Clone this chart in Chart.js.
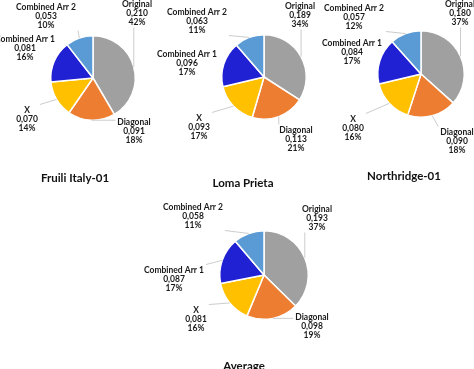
<!DOCTYPE html>
<html>
<head>
<meta charset="utf-8">
<script src="https://cdn.jsdelivr.net/npm/chart.js@4.4.0/dist/chart.umd.min.js"></script>
<style>
  html, body { margin: 0; padding: 0; background: #fff; overflow: hidden; }
  #wrap { position: relative; width: 474px; height: 369px; }
  .pie { position: absolute; left: 0; top: 0; width: 474px; height: 369px; pointer-events: none; }
  .title { position: absolute; transform: translate(-50%, -50%); font: bold 11.5px Lato, sans-serif; color: #111; white-space: nowrap; }
</style>
</head>
<body>
<div id="wrap">
  <div class="pie"><canvas id="c0"></canvas></div>
  <div class="pie"><canvas id="c1"></canvas></div>
  <div class="pie"><canvas id="c2"></canvas></div>
  <div class="pie"><canvas id="c3"></canvas></div>
</div>
<script>
const categories = ['Original', 'Diagonal', 'X', 'Combined Arr 1', 'Combined Arr 2'];
const colors = ['#a0a0a0', '#ed7d31', '#ffc000', '#2121d4', '#5b9bd5'];

const fruiliValues = [0.210, 0.091, 0.070, 0.081, 0.053];
const fruiliPct = [42, 18, 14, 16, 10];
const lomaValues = [0.189, 0.113, 0.093, 0.096, 0.063];
const lomaPct = [34, 21, 17, 17, 11];
const northValues = [0.180, 0.090, 0.080, 0.084, 0.057];
const northPct = [37, 18, 16, 17, 12];
const avgValues = [0.193, 0.098, 0.081, 0.087, 0.058];
const avgPct = [37, 19, 16, 17, 11];

// layout: pie centre, radius, title position, label offsets from centre
const W = 474, H = 369;
const panels = [
  { id: 'c0', title: 'Fruili Italy-01', values: fruiliValues, pct: fruiliPct, cx: 93, cy: 78, r: 43, tx: 75, ty: 177,
    offs: [[44, -65], [41, 53], [-66, 41], [-68, -30], [-47, -62]] },
  { id: 'c1', title: 'Loma Prieta', values: lomaValues, pct: lomaPct, cx: 264, cy: 77, r: 43, tx: 243, ty: 182,
    offs: [[36, -62], [32, 62], [-65, 50], [-77, -14], [-67, -56]] },
  { id: 'c2', title: 'Northridge-01', values: northValues, pct: northPct, cx: 421, cy: 74, r: 44, tx: 404, ty: 175,
    offs: [[39, -61], [36, 67], [-68, 54], [-69, -22], [-67, -57]] },
  { id: 'c3', title: 'Average', values: avgValues, pct: avgPct, cx: 264, cy: 275, r: 45, tx: 244, ty: 365,
    offs: [[53, -57], [48, 51], [-68, 44], [-90, 4], [-71, -59]] }
];

const fmt = v => v.toFixed(3).replace('.', ',');

const pieLabels = {
  id: 'pieLabels',
  afterDatasetsDraw(chart, args, opts) {
    const ctx = chart.ctx;
    const meta = chart.getDatasetMeta(0);
    const ds = chart.data.datasets[0];
    const lh = 9;
    ctx.save();
    ctx.font = 'bold 8.5px Lato, sans-serif';
    ctx.textAlign = 'center';
    ctx.textBaseline = 'middle';
    meta.data.forEach((arc, i) => {
      const p = arc.getProps(['x', 'y', 'startAngle', 'endAngle', 'outerRadius'], true);
      const mid = (p.startAngle + p.endAngle) / 2;
      const ax = p.x + Math.cos(mid) * p.outerRadius;
      const ay = p.y + Math.sin(mid) * p.outerRadius;
      const lx = p.x + opts.offs[i][0];
      const ly = p.y + opts.offs[i][1];
      const lines = [chart.data.labels[i], fmt(ds.data[i]), opts.pct[i] + '%'];
      const w = Math.max(...lines.map(t => ctx.measureText(t).width));
      const h = lines.length * lh;
      const x0 = lx - w / 2 - 2, x1 = lx + w / 2 + 2, y0 = ly - h / 2 - 1, y1 = ly + h / 2 + 1;
      const ex = Math.min(Math.max(ax, x0), x1);
      const ey = Math.min(Math.max(ay, y0), y1);
      if (Math.hypot(ex - ax, ey - ay) > 6) {
        ctx.strokeStyle = '#bfbfbf';
        ctx.lineWidth = 0.8;
        ctx.beginPath();
        ctx.moveTo(ex, ey);
        ctx.lineTo(ax, ay);
        ctx.stroke();
      }
      ctx.fillStyle = '#1a1a1a';
      lines.forEach((t, k) => ctx.fillText(t, lx, ly + (k - 1) * lh));
    });
    ctx.restore();
  }
};

panels.forEach(pn => {
  new Chart(document.getElementById(pn.id), {
    type: 'pie',
    data: {
      labels: categories,
      datasets: [{
        data: pn.values,
        backgroundColor: colors,
        borderColor: '#ffffff',
        borderWidth: 1.5
      }]
    },
    options: {
      responsive: true,
      maintainAspectRatio: false,
      animation: false,
      events: [],
      layout: {
        padding: {
          left: pn.cx - pn.r,
          right: W - pn.cx - pn.r,
          top: pn.cy - pn.r,
          bottom: H - pn.cy - pn.r
        }
      },
      plugins: {
        legend: { display: false },
        tooltip: { enabled: false },
        pieLabels: { offs: pn.offs, pct: pn.pct }
      }
    },
    plugins: [pieLabels]
  });
  const t = document.createElement('div');
  t.className = 'title';
  t.textContent = pn.title;
  t.style.left = pn.tx + 'px';
  t.style.top = pn.ty + 'px';
  document.getElementById('wrap').appendChild(t);
});
</script>
</body>
</html>
